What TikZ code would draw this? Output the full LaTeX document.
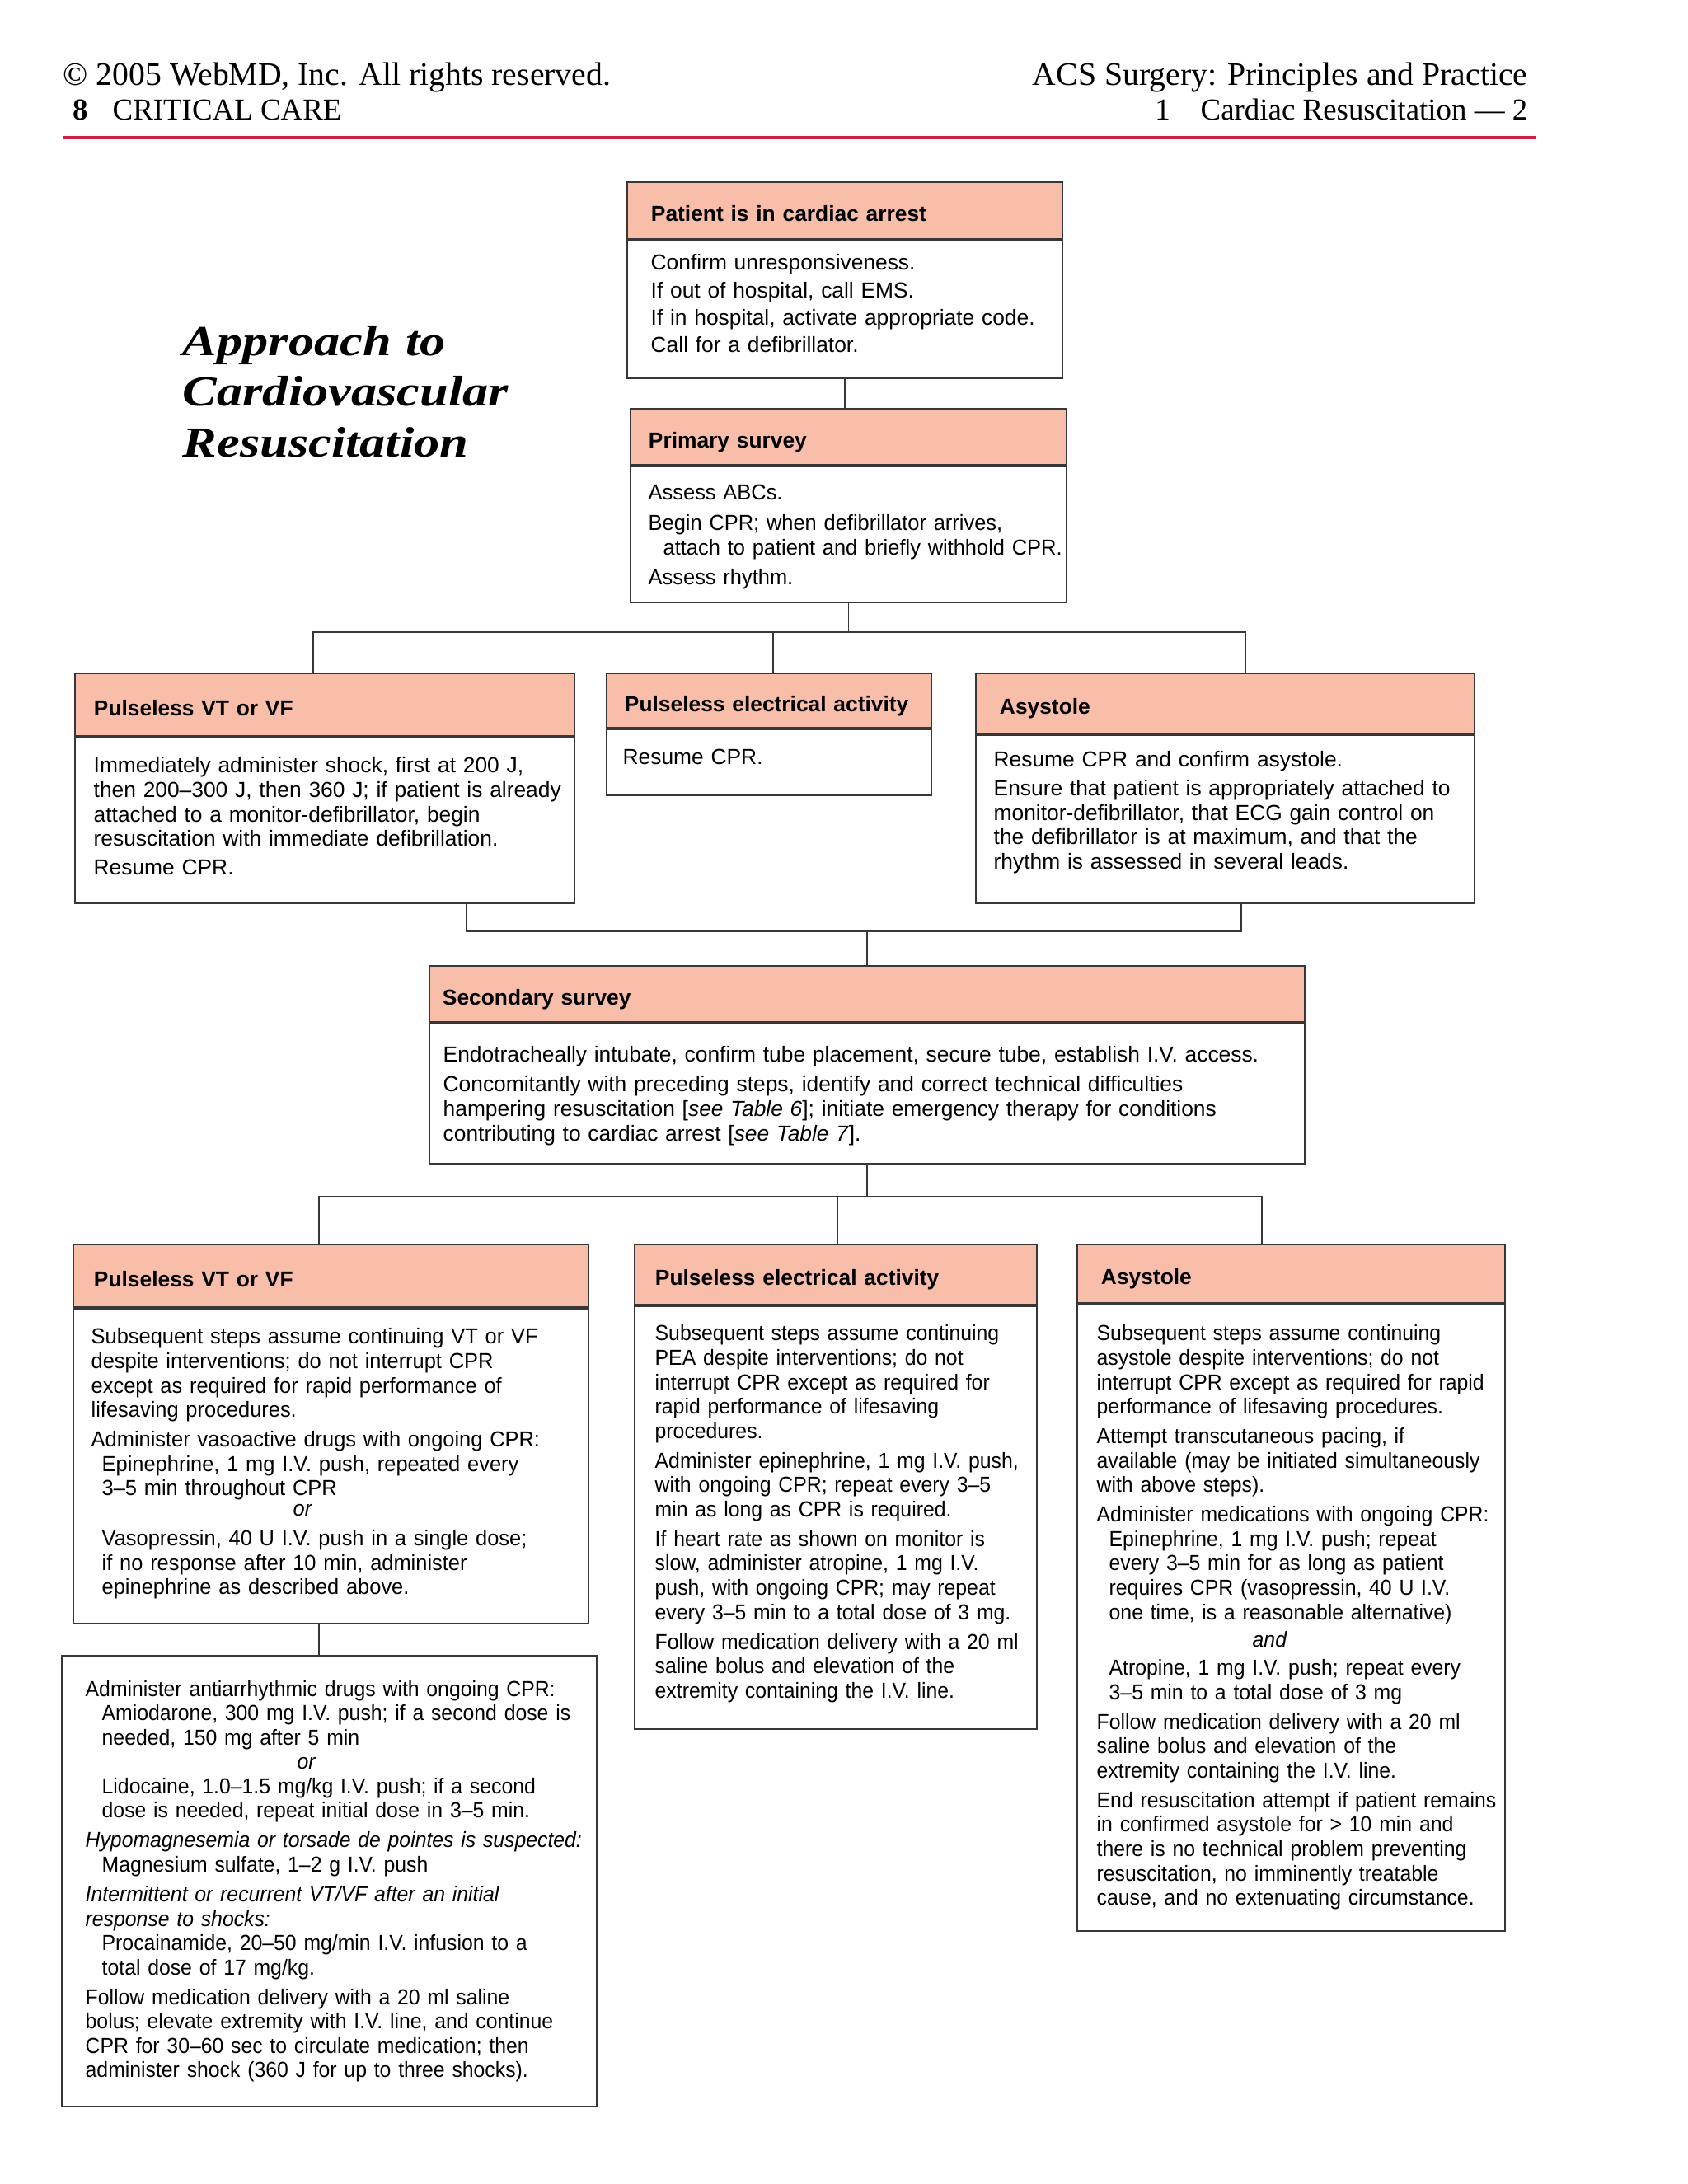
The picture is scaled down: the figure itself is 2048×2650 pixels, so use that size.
\documentclass[tikz,border=0pt]{standalone}
\usepackage{fontspec}
\setsansfont{Liberation Sans}
\newfontfamily\pageserif{Liberation Serif}
\newfontfamily\titleserif[FakeStretch=1.2]{Liberation Serif}
\newfontfamily\snugsans[FakeStretch=0.965]{Liberation Sans}
\newfontfamily\tightsans[FakeStretch=0.94]{Liberation Sans}
\usetikzlibrary{calc,positioning}
\definecolor{headfill}{RGB}{248,190,170}
\definecolor{rulered}{RGB}{206,32,64}
\definecolor{boxline}{RGB}{55,55,55}
\newcommand{\drugline}[1][1.5mm]{\hspace*{#1}}

\begin{document}
\begin{tikzpicture}[x=0.1mm, y=-0.1mm,
    heading/.style={rectangle, draw=boxline, line width=0.55pt, fill=headfill,
        anchor=north west, align=left, inner ysep=0pt, text height=7.5pt, text depth=0pt,
        font=\sffamily\bfseries\fontsize{7.5pt}{8.4pt}\selectfont},
    panel/.style={rectangle, draw=boxline, line width=0.55pt, anchor=north west,
        inner sep=0pt},
    details/.style={anchor=base west, align=left, inner sep=0pt, text width=110mm,
        font=\sffamily\fontsize{7.5pt}{8.42pt}\selectfont},
    snugtext/.style={font=\snugsans\fontsize{7.5pt}{8.42pt}\selectfont},
    tighttext/.style={font=\tightsans\fontsize{7.5pt}{8.42pt}\selectfont},
    pagehead/.style={inner sep=0pt, font=\pageserif\fontsize{11.3pt}{13pt}\selectfont},
    pagesub/.style={inner sep=0pt, font=\pageserif\fontsize{10.5pt}{12pt}\selectfont},
    connector/.style={draw=boxline, line width=0.55pt}
]
\useasboundingbox (0,0) rectangle (2048,2650);

\node (Copyright) [pagehead, anchor=base west] at (76,103) {© 2005 WebMD, Inc. All rights reserved.};
\node (Chapter) [pagesub, anchor=base west] at (88,145) {\textbf{8}\hspace{0.8em}CRITICAL CARE};
\node (Book) [pagehead, anchor=base east] at (1854,103) {ACS Surgery: Principles and Practice};
\node (Section) [pagesub, anchor=base east] at (1854,145) {1\hspace{1em}Cardiac Resuscitation — 2};
\draw[rulered, line width=0.9pt] (76,167) -- (1864,167);

\node (Title) [anchor=base west, align=left, inner sep=0pt, text width=60mm,
    font=\titleserif\bfseries\itshape\fontsize{14.8pt}{17.5pt}\selectfont] at (221,431)
    {Approach to\\ Cardiovascular\\ Resuscitation};

\node (Arrest) [heading, text width=47mm, inner xsep=2.9mm, minimum height=6.9mm] at (760,220)
    {Patient is in cardiac arrest};
\node (ArrestBody) [panel, minimum width=52.8mm, minimum height=16.7mm] at (Arrest.south west) {};
\node (ArrestText) [details] at ([shift={(29,37)}]ArrestBody.north west)
    {Confirm unresponsiveness.\\[1pt]
     If out of hospital, call EMS.\\[1pt]
     If in hospital, activate appropriate code.\\[1pt]
     Call for a defibrillator.};

\node (Primary) [heading, text width=48.5mm, inner xsep=2.2mm, minimum height=6.8mm] at (764,495)
    {Primary survey};
\node (PrimaryBody) [panel, minimum width=52.9mm, minimum height=16.5mm] at (Primary.south west) {};
\node (PrimaryText) [details, snugtext] at ([shift={(22,42)}]PrimaryBody.north west)
    {Assess ABCs.\\[2pt]
     Begin CPR; when defibrillator arrives,\\
     \drugline[1.8mm]attach to patient and briefly withhold CPR.\\[2pt]
     Assess rhythm.};

\node (VF01) [heading, text width=56mm, inner xsep=2.3mm, minimum height=7.6mm] at (90,816)
    {Pulseless VT or VF};
\node (VF01Body) [panel, minimum width=60.6mm, minimum height=20.1mm] at (VF01.south west) {};
\node (VF01Text) [details] at ([shift={(23,44)}]VF01Body.north west)
    {Immediately administer shock, first at 200 J,\\
     then 200–300 J, then 360 J; if patient is already\\
     attached to a monitor-defibrillator, begin\\
     resuscitation with immediate defibrillation.\\[1.6pt]
     Resume CPR.};

\node (PEA01) [heading, text width=35mm, inner xsep=2.2mm, minimum height=6.6mm] at (735,816)
    {Pulseless electrical activity};
\node (PEA01Body) [panel, minimum width=39.4mm, minimum height=8mm] at (PEA01.south west) {};
\node (PEA01Text) [details] at ([shift={(20,44)}]PEA01Body.north west) {Resume CPR.};

\node (Asystole01) [heading, text width=54.7mm, inner xsep=2.9mm, minimum height=7.3mm] at (1183,816)
    {Asystole};
\node (Asystole01Body) [panel, minimum width=60.5mm, minimum height=20.4mm] at (Asystole01.south west) {};
\node (Asystole01Text) [details] at ([shift={(22,40)}]Asystole01Body.north west)
    {Resume CPR and confirm asystole.\\[1.5pt]
     Ensure that patient is appropriately attached to\\
     monitor-defibrillator, that ECG gain control on\\
     the defibrillator is at maximum, and that the\\
     rhythm is assessed in several leads.};

\node (Secondary) [heading, text width=103mm, inner xsep=1.6mm, minimum height=6.8mm] at (520,1171)
    {Secondary survey};
\node (SecondaryBody) [panel, minimum width=106.2mm, minimum height=17mm] at (Secondary.south west) {};
\node (SecondaryText) [details] at ([shift={(17,48)}]SecondaryBody.north west)
    {Endotracheally intubate, confirm tube placement, secure tube, establish I.V. access.\\[1.8pt]
     Concomitantly with preceding steps, identify and correct technical difficulties\\
     hampering resuscitation [\textit{see Table 6}]; initiate emergency therapy for conditions\\
     contributing to cardiac arrest [\textit{see Table 7}].};

\node (VF02) [heading, text width=57.5mm, inner xsep=2.5mm, minimum height=7.6mm] at (88,1509)
    {Pulseless VT or VF};
\node (VF02Body) [panel, minimum width=62.5mm, minimum height=38.2mm] at (VF02.south west) {};
\node (VF02Text) [details, snugtext] at ([shift={(22,44)}]VF02Body.north west)
    {Subsequent steps assume continuing VT or VF\\
     despite interventions; do not interrupt CPR\\
     except as required for rapid performance of\\
     lifesaving procedures.\\[1.8pt]
     Administer vasoactive drugs with ongoing CPR:\\
     \drugline[1.3mm]Epinephrine, 1 mg I.V. push, repeated every\\
     \drugline[1.3mm]3–5 min throughout CPR\\[-1.3pt]
     \drugline[24.5mm]\textit{or}\\[1.8pt]
     \drugline[1.3mm]Vasopressin, 40 U I.V. push in a single dose;\\
     \drugline[1.3mm]if no response after 10 min, administer\\
     \drugline[1.3mm]epinephrine as described above.};

\node (Antiarrhythmic) [panel, minimum width=64.9mm, minimum height=54.7mm] at (74,2008) {};
\node (AntiarrhythmicText) [details, tighttext] at ([shift={(29,50)}]Antiarrhythmic.north west)
    {Administer antiarrhythmic drugs with ongoing CPR:\\
     \drugline[2mm]Amiodarone, 300 mg I.V. push; if a second dose is\\
     \drugline[2mm]needed, 150 mg after 5 min\\
     \drugline[25.7mm]\textit{or}\\
     \drugline[2mm]Lidocaine, 1.0–1.5 mg/kg I.V. push; if a second\\
     \drugline[2mm]dose is needed, repeat initial dose in 3–5 min.\\[1.8pt]
     \textit{Hypomagnesemia or torsade de pointes is suspected:}\\
     \drugline[2mm]Magnesium sulfate, 1–2 g I.V. push\\[1.8pt]
     \textit{Intermittent or recurrent VT/VF after an initial}\\
     \textit{response to shocks:}\\
     \drugline[2mm]Procainamide, 20–50 mg/min I.V. infusion to a\\
     \drugline[2mm]total dose of 17 mg/kg.\\[1.8pt]
     Follow medication delivery with a 20 ml saline\\
     bolus; elevate extremity with I.V. line, and continue\\
     CPR for 30–60 sec to circulate medication; then\\
     administer shock (360 J for up to three shocks).};

\node (PEA02) [heading, text width=43.8mm, inner xsep=2.5mm, minimum height=7.3mm] at (769,1509)
    {Pulseless electrical activity};
\node (PEA02Body) [panel, minimum width=48.8mm, minimum height=51.3mm] at (PEA02.south west) {};
\node (PEA02Text) [details, tighttext] at ([shift={(25,43)}]PEA02Body.north west)
    {Subsequent steps assume continuing\\
     PEA despite interventions; do not\\
     interrupt CPR except as required for\\
     rapid performance of lifesaving\\
     procedures.\\[1.8pt]
     Administer epinephrine, 1 mg I.V. push,\\
     with ongoing CPR; repeat every 3–5\\
     min as long as CPR is required.\\[1.8pt]
     If heart rate as shown on monitor is\\
     slow, administer atropine, 1 mg I.V.\\
     push, with ongoing CPR; may repeat\\
     every 3–5 min to a total dose of 3 mg.\\[1.8pt]
     Follow medication delivery with a 20 ml\\
     saline bolus and elevation of the\\
     extremity containing the I.V. line.};

\node (Asystole02) [heading, text width=46.1mm, inner xsep=2.9mm, minimum height=7.1mm] at (1306,1509)
    {Asystole};
\node (Asystole02Body) [panel, minimum width=51.9mm, minimum height=76mm] at (Asystole02.south west) {};
\node (Asystole02Text) [details, tighttext] at ([shift={(24,45)}]Asystole02Body.north west)
    {Subsequent steps assume continuing\\
     asystole despite interventions; do not\\
     interrupt CPR except as required for rapid\\
     performance of lifesaving procedures.\\[1.8pt]
     Attempt transcutaneous pacing, if\\
     available (may be initiated simultaneously\\
     with above steps).\\[1.8pt]
     Administer medications with ongoing CPR:\\
     \drugline[1.5mm]Epinephrine, 1 mg I.V. push; repeat\\
     \drugline[1.5mm]every 3–5 min for as long as patient\\
     \drugline[1.5mm]requires CPR (vasopressin, 40 U I.V.\\
     \drugline[1.5mm]one time, is a reasonable alternative)\\[1.2pt]
     \drugline[18.9mm]\textit{and}\\[1.2pt]
     \drugline[1.5mm]Atropine, 1 mg I.V. push; repeat every\\
     \drugline[1.5mm]3–5 min to a total dose of 3 mg\\[1.8pt]
     Follow medication delivery with a 20 ml\\
     saline bolus and elevation of the\\
     extremity containing the I.V. line.\\[1.8pt]
     End resuscitation attempt if patient remains\\
     in confirmed asystole for > 10 min and\\
     there is no technical problem preventing\\
     resuscitation, no imminently treatable\\
     cause, and no extenuating circumstance.};

\coordinate (Drop01) at (380,767);
\coordinate (Drop02) at (938,767);
\coordinate (Drop03) at (1511,767);
\coordinate (Merge01) at (566,1130);
\coordinate (Merge02) at (1506,1130);
\coordinate (Drop04) at (387,1452);
\coordinate (Drop05) at (1016,1452);
\coordinate (Drop06) at (1531,1452);

\draw[connector] (ArrestBody.south) -- (ArrestBody.south |- Primary.north);
\draw[connector] (PrimaryBody.south) -- (PrimaryBody.south |- Drop01);
\draw[connector] (Drop01 |- VF01.north) -- (Drop01) -- (Drop03) -- (Drop03 |- Asystole01.north);
\draw[connector] (Drop02) -- (Drop02 |- PEA01.north);
\draw[connector] (Merge01 |- VF01Body.south) -- (Merge01) -- (Merge02) -- (Merge02 |- Asystole01Body.south);
\draw[connector] (Secondary.north) -- (Secondary.north |- Merge01);
\draw[connector] (SecondaryBody.south) -- (SecondaryBody.south |- Drop04);
\draw[connector] (Drop04 |- VF02.north) -- (Drop04) -- (Drop06) -- (Drop06 |- Asystole02.north);
\draw[connector] (Drop05) -- (Drop05 |- PEA02.north);
\draw[connector] (Drop04 |- VF02Body.south) -- (Drop04 |- Antiarrhythmic.north);

\end{tikzpicture}
\end{document}
